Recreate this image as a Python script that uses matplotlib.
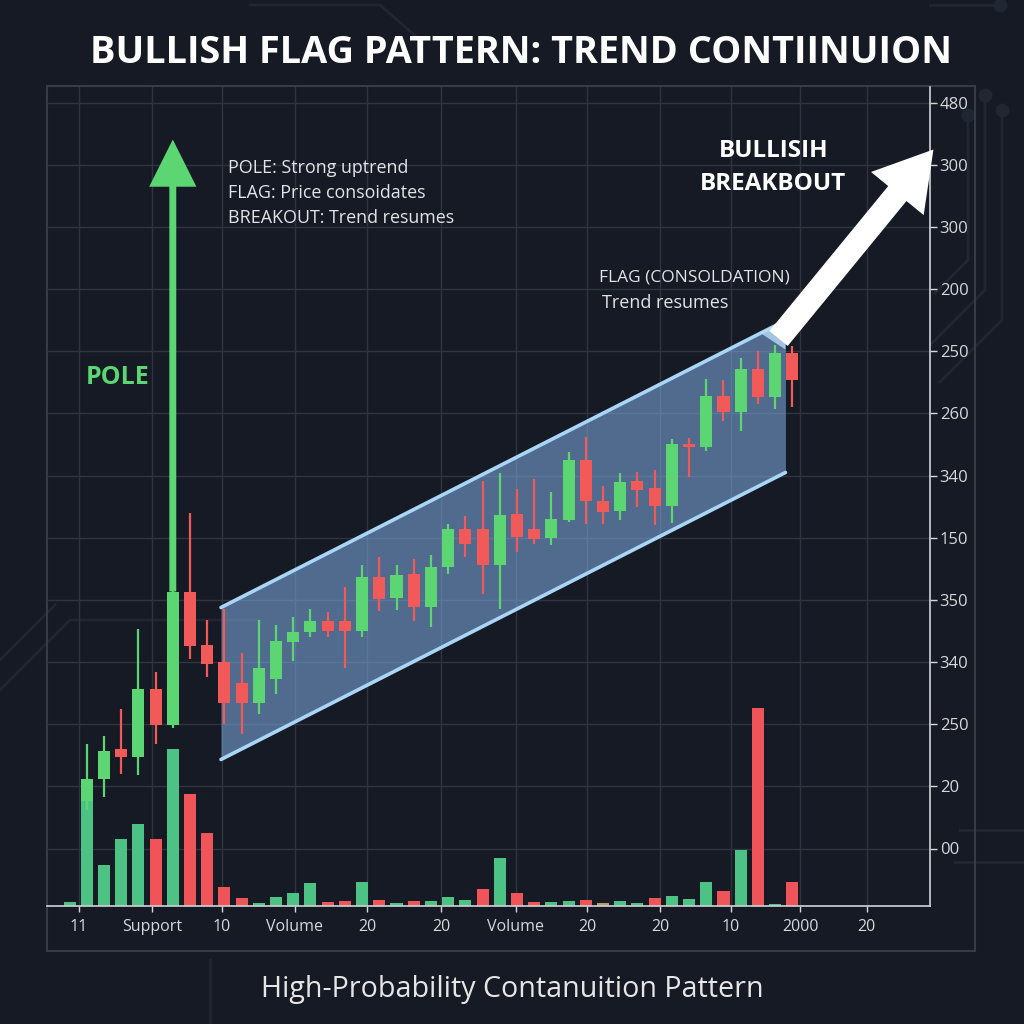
import numpy as np
import matplotlib.pyplot as plt
from matplotlib.patches import FancyArrowPatch, Polygon, Rectangle
from matplotlib.lines import Line2D

plt.rcParams['font.family'] = ['Open Sans', 'DejaVu Sans']

bg = '#161a24'
green = '#5cd672'
red = '#f25a5a'
vgreen = '#4cc384'
vred = '#ee5458'
vtan = '#b89a6c'

# candles 1..42 (chart price units)
idx = np.arange(1, 43)
opens = [105, 127, 157, 149, 217, 181, 314, 261, 244, 223, 203, 227, 264, 274, 285, 285, 275, 329, 308, 332,
         299, 339, 377, 377, 341, 392, 377, 368, 386, 446, 405, 395, 425, 418, 400, 462, 459, 510, 494, 537,
         509, 553]
closes = [127, 155, 149, 217, 181, 314, 260, 242, 203, 203, 238, 265, 274, 285, 275, 275, 329, 307, 331, 299,
          339, 377, 362, 341, 391, 369, 367, 387, 446, 405, 394, 424, 416, 400, 462, 459, 510, 494, 537, 509,
          553, 526]
highs = [162, 170, 197, 277, 234, 316, 393, 286, 297, 253, 286, 281, 289, 297, 294, 319, 341, 349, 341, 347,
         351, 382, 390, 425, 433, 417, 427, 414, 454, 469, 420, 433, 434, 436, 467, 468, 527, 526, 548, 555,
         561, 560]
lows = [96, 109, 132, 131, 162, 178, 247, 229, 182, 172, 192, 212, 245, 269, 269, 238, 269, 295, 296, 285,
        279, 332, 349, 312, 297, 354, 362, 361, 384, 382, 382, 386, 399, 381, 383, 429, 455, 485, 475, 502,
        497, 499]

# volume 0..42
vol_idx = np.arange(0, 43)
volume = [4, 127, 41, 67, 82, 67, 157, 112, 73, 19, 8, 3, 9, 13, 23, 4, 5, 24, 6, 3,
          5, 5, 9, 6, 17, 48, 13, 4, 4, 5, 6, 3, 5, 3, 8, 10, 7, 24, 15, 56, 198, 2, 24]
vol_dir = ['g', 'g', 'g', 'g', 'g', 'r', 'g', 'r', 'r', 'r', 'r', 'g', 'g', 'g', 'g', 'r', 'r', 'g', 'r', 'g',
           'r', 'g', 'g', 'g', 'r', 'g', 'r', 'r', 'g', 'g', 'r', 't', 'g', 'g', 'r', 'g', 'g', 'g', 'r', 'g',
           'r', 'g', 'r']

# flag channel
chan_x = [8.8, 41.6]
chan_lo = [146, 433]
chan_hi = [298, 585]

# pole / breakout arrows
pole_x, pole_from, pole_to = 6, 314, 766
brk_from = (41.2, 567)
brk_to = (50.2, 756)

ytick_pos = 57 + 62.15 * np.arange(13)
ytick_lab = ['00', '20', '250', '340', '350', '150', '340', '260', '250', '200', '300', '300', '480']
xtick_pos = [0.55, 4.79, 8.86, 13.1, 17.29, 21.58, 25.94, 30.07, 34.31, 38.44, 42.45, 46.33]
xtick_lab = ['11', 'Support', '10', 'Volume', '20', '20', 'Volume', '20', '20', '10', '2000', '20']

fig = plt.figure(figsize=(10.24, 10.24), dpi=100, facecolor=bg)

def fx(px):
    return px / 1024

def fy(py):
    return 1 - py / 1024

# faint circuit decoration in the background
deco = [
    [(0, 690), (70, 620), (260, 620)],
    [(0, 660), (55, 605)],
    [(985, 95), (985, 290), (930, 345)],
    [(1002, 110), (1002, 320), (940, 382)],
    [(968, 115), (968, 260), (935, 293)],
    [(960, 830), (1024, 830)],
    [(955, 862), (1024, 862)],
    [(250, 5), (380, 5), (420, 40)],
    [(930, 5), (1000, 5)],
    [(210, 1024), (210, 960)],
]
for seg in deco:
    xs = [fx(p[0]) for p in seg]
    ys = [fy(p[1]) for p in seg]
    fig.add_artist(Line2D(xs, ys, color='#212633', lw=2, zorder=0))
for p in [(985, 95), (1002, 110), (968, 115), (1000, 5)]:
    fig.add_artist(Line2D([fx(p[0])], [fy(p[1])], marker='o', ms=9, color='#212633', lw=0, zorder=0))

# panel frame
fig.add_artist(Rectangle((fx(47), fy(951)), fx(975) - fx(47), fy(86) - fy(951),
                         fill=False, ec='#363b48', lw=1.5, zorder=0))

ax = fig.add_axes([fx(47), fy(905.5), fx(930) - fx(47), fy(87) - fy(905.5)])
ax.set_facecolor('none')
ax.set_xlim(-1.31, 50.0)
ax.set_ylim(0, 818.5)

# grid
for yv in ytick_pos:
    ax.axhline(yv, color='#2e3441', lw=1, zorder=0)
for xv in xtick_pos:
    ax.axvline(xv, color='#2e3441', lw=1, zorder=0)

# flag channel
ax.fill_between(chan_x, chan_lo, chan_hi, color='#80aee6', alpha=0.55, lw=0, zorder=1)
ax.plot(chan_x, chan_lo, color='#a9d5f7', lw=2.6, solid_capstyle='round', zorder=4)
ax.plot(chan_x, chan_hi, color='#a9d5f7', lw=2.6, solid_capstyle='round', zorder=4)

# volume
vcols = [{'g': vgreen, 'r': vred, 't': vtan}[d] for d in vol_dir]
ax.bar(vol_idx, volume, width=0.7, color=vcols, zorder=2)

# candles
opens = np.array(opens)
closes = np.array(closes)
ccols = [green if c >= o else red for o, c in zip(opens, closes)]
ax.vlines(idx, lows, highs, colors=ccols, lw=1.6, zorder=3)
body = np.maximum(np.abs(closes - opens), 3)
ax.bar(idx, body, bottom=np.minimum(opens, closes), width=0.7, color=ccols, zorder=3)

# pole arrow
ax.add_patch(FancyArrowPatch((pole_x, pole_from), (pole_x, pole_to),
                             arrowstyle='simple,head_length=3.4,head_width=3.4,tail_width=0.5',
                             mutation_scale=10, color=green, lw=0, shrinkA=0, shrinkB=0, zorder=3))

# breakout arrow
ax.add_patch(Polygon([(40.1, 573), (41.6, 585), (41.6, 556)], closed=True,
                     color='#b9dcf7', alpha=0.8, lw=0, zorder=4))
ax.add_patch(FancyArrowPatch(brk_from, brk_to,
                             arrowstyle='simple,head_length=4.1,head_width=4.9,tail_width=1.7',
                             mutation_scale=10, color='white', lw=0, shrinkA=0, shrinkB=0,
                             zorder=5, clip_on=False))

# axes styling
for s in ['left', 'top']:
    ax.spines[s].set_visible(False)
ax.spines['right'].set_color('#d0d3d8')
ax.spines['bottom'].set_color('#d0d3d8')
ax.spines['right'].set_linewidth(1.2)
ax.spines['bottom'].set_linewidth(1.2)
ax.yaxis.tick_right()
ax.set_yticks(ytick_pos)
ax.set_yticklabels(ytick_lab)
ax.set_xticks(xtick_pos)
ax.set_xticklabels(xtick_lab)
ax.tick_params(axis='y', colors='#d5d8dc', labelsize=12, length=5, width=1, pad=2)
ax.tick_params(axis='x', colors='#d5d8dc', labelsize=11.5, length=4, width=1, pad=6)

# texts
fig.text(fx(521), fy(63), 'BULLISH FLAG PATTERN: TREND CONTIINUION', color='white',
         fontsize=27.3, fontweight='bold', ha='center', va='baseline')
fig.text(fx(512), fy(997), 'High-Probability Contanuition Pattern', color='#e6e6e6',
         fontsize=20.6, ha='center', va='baseline')
for i, line in enumerate(['POLE: Strong uptrend', 'FLAG: Price consoidates', 'BREAKOUT: Trend resumes']):
    fig.text(fx(228), fy(173 + 24.8 * i), line, color='#e2e4e8', fontsize=12.9, ha='left', va='baseline')
fig.text(fx(118), fy(384), 'POLE', color=green, fontsize=18, fontweight='bold', ha='center', va='baseline')
fig.text(fx(774), fy(157), 'BULLISIH', color='white', fontsize=17.5, fontweight='bold',
         ha='center', va='baseline')
fig.text(fx(773), fy(190), 'BREAKBOUT', color='white', fontsize=17.5, fontweight='bold',
         ha='center', va='baseline')
fig.text(fx(599), fy(282), 'FLAG (CONSOLDATION)', color='#e2e4e8', fontsize=12.5, ha='left', va='baseline')
fig.text(fx(602), fy(308), 'Trend resumes', color='#e2e4e8', fontsize=13, ha='left', va='baseline')

fig.savefig('out.png', dpi=100, facecolor=bg)
